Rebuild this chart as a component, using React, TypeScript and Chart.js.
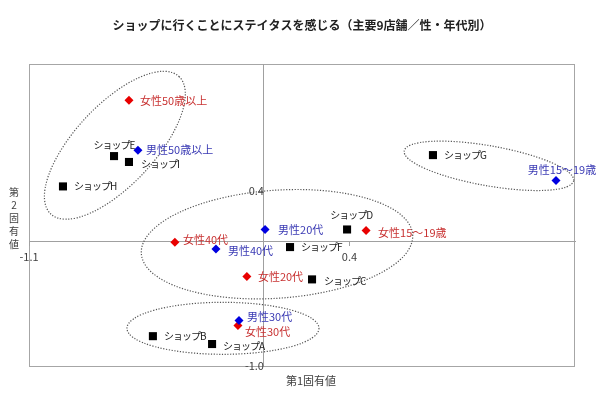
import React, { useEffect, useRef } from "react";
import { Chart, registerables } from "chart.js";

Chart.register(...registerables);

// ---------- data ----------
const TITLE = "ショップに行くことにステイタスを感じる（主要9店舗／性・年代別）";
const X_TITLE = "第1固有値";
const Y_TITLE = "第2固有値";

const shopNames = ["ショップA", "ショップB", "ショップC", "ショップD", "ショップE", "ショップF", "ショップG", "ショップH", "ショップI"];
const shopX = [-0.243, -0.52, 0.225, 0.389, -0.702, 0.122, 0.791, -0.941, -0.632];
const shopY = [-0.824, -0.761, -0.306, 0.094, 0.682, -0.047, 0.69, 0.439, 0.635];

const maleNames = ["男性15～19歳", "男性20代", "男性30代", "男性40代", "男性50歳以上"];
const maleX = [1.367, 0.005, -0.117, -0.225, -0.59];
const maleY = [0.486, 0.094, -0.635, -0.063, 0.729];

const femaleNames = ["女性15～19歳", "女性20代", "女性30代", "女性40代", "女性50歳以上"];
const femaleX = [0.478, -0.08, -0.122, -0.417, -0.632];
const femaleY = [0.086, -0.282, -0.675, -0.008, 1.129];

const xTicks = [-1.1, 0.4];
const yTicks = [-1.0, 0.4];
const xMin = -1.1;
const xMax = 1.456;
const yMin = -1.0;
const yMax = 1.42;

// group ellipses: centre in data units
const groupCentersX = [-0.698, 1.053, 0.061, -0.192];
const groupCentersY = [0.769, 0.604, -0.024, -0.698];

// ---------- styles ----------
const FONT = "'Noto Sans CJK JP', 'Noto Sans', sans-serif";
const ellipseShapes = [
  { rx: 94, ry: 40, rot: -47 },
  { rx: 86, ry: 20, rot: 10 },
  { rx: 136, ry: 54, rot: -4 },
  { rx: 96, ry: 26, rot: 0 },
];

const labelOffsets: Record<string, { dx?: number; dy?: number; align?: CanvasTextAlign }> = {
  "ショップE": { dx: 0, dy: -11, align: "center" },
  "ショップD": { dx: 4, dy: -14, align: "center" },
  "男性15～19歳": { dx: 6, dy: -11, align: "center" },
  "男性30代": { dx: 8, dy: -4 },
  "女性30代": { dx: 7, dy: 6 },
  "男性40代": { dx: 12, dy: 2 },
  "女性40代": { dx: 8, dy: -2 },
  "男性50歳以上": { dx: 8 },
  "ショップI": { dx: 12, dy: 2 },
  "ショップC": { dx: 12, dy: 2 },
  "ショップA": { dx: 11, dy: 2 },
  "女性15～19歳": { dx: 12, dy: 2 },
  "男性20代": { dx: 13 },
};

const labelStyles = [
  { names: shopNames, color: "#222222", size: 10, spacing: "-1px" },
  { names: maleNames, color: "#3a3ab4", size: 11, spacing: "0px" },
  { names: femaleNames, color: "#c83232", size: 11, spacing: "0px" },
];

const decorPlugin = {
  id: "decor",
  beforeDraw(chart: any) {
    const { ctx, chartArea } = chart;
    ctx.save();
    ctx.fillStyle = "#ffffff";
    ctx.fillRect(0, 0, chart.width, chart.height);
    // plot border
    ctx.strokeStyle = "#a6a6a6";
    ctx.lineWidth = 1;
    ctx.strokeRect(chartArea.left + 0.5, chartArea.top + 0.5, chartArea.right - chartArea.left - 1, chartArea.bottom - chartArea.top);
    ctx.restore();
  },
  beforeDatasetsDraw(chart: any) {
    const { ctx, scales } = chart;
    ctx.save();
    // ellipses
    ctx.strokeStyle = "#555555";
    ctx.lineWidth = 1.2;
    ctx.setLineDash([1.2, 1.6]);
    groupCentersX.forEach((cx, i) => {
      const px = scales.x.getPixelForValue(cx);
      const py = scales.y.getPixelForValue(groupCentersY[i]);
      const s = ellipseShapes[i];
      ctx.beginPath();
      ctx.ellipse(px, py, s.rx, s.ry, (s.rot * Math.PI) / 180, 0, Math.PI * 2);
      ctx.stroke();
    });
    ctx.restore();
  },
  afterDatasetsDraw(chart: any) {
    const { ctx, chartArea } = chart;
    ctx.save();
    labelStyles.forEach((st, di) => {
      const meta = chart.getDatasetMeta(di);
      ctx.font = `${st.size}px ${FONT}`;
      ctx.fillStyle = st.color;
      (ctx as any).letterSpacing = st.spacing;
      ctx.textBaseline = "middle";
      meta.data.forEach((pt: any, j: number) => {
        const name = st.names[j];
        const o = labelOffsets[name] || {};
        ctx.textAlign = o.align || "left";
        ctx.fillText(name, pt.x + (o.dx ?? 11), pt.y + (o.dy ?? 0));
      });
    });
    (ctx as any).letterSpacing = "0px";
    // axis titles
    ctx.fillStyle = "#404040";
    ctx.font = `11px ${FONT}`;
    ctx.textAlign = "center";
    ctx.textBaseline = "middle";
    ctx.fillText(X_TITLE, (chartArea.left + chartArea.right) / 2 + 9, chartArea.bottom + 15);
    ctx.font = `10px ${FONT}`;
    Array.from(Y_TITLE).forEach((ch, i) => {
      ctx.fillText(ch, 14, 192 + i * 13);
    });
    ctx.restore();
  },
};

export default function App() {
  const ref = useRef<HTMLCanvasElement | null>(null);
  useEffect(() => {
    document.body.style.margin = "0";
    if (!ref.current) return;
    const chart = new Chart(ref.current, {
      type: "scatter",
      data: {
        datasets: [
          {
            label: "店舗",
            data: shopX.map((x, i) => ({ x, y: shopY[i] })),
            pointStyle: "rect",
            pointRadius: 5.7,
            backgroundColor: "#000000",
            borderColor: "#000000",
            borderWidth: 0,
          },
          {
            label: "男性",
            data: maleX.map((x, i) => ({ x, y: maleY[i] })),
            pointStyle: "rectRot",
            pointRadius: 4.5,
            backgroundColor: "#0000e0",
            borderColor: "#0000e0",
            borderWidth: 0,
          },
          {
            label: "女性",
            data: femaleX.map((x, i) => ({ x, y: femaleY[i] })),
            pointStyle: "rectRot",
            pointRadius: 4.5,
            backgroundColor: "#e80000",
            borderColor: "#e80000",
            borderWidth: 0,
          },
        ],
      },
      options: {
        animation: false,
        responsive: false,
        maintainAspectRatio: false,
        events: [],
        layout: { padding: { left: 29, right: 25, bottom: 27, top: 0 } },
        plugins: {
          legend: { display: false },
          tooltip: { enabled: false },
          title: {
            display: true,
            text: TITLE,
            color: "#222222",
            font: { family: FONT, size: 12, weight: "bold" },
            padding: { top: 18, bottom: 31.6 },
          },
        },
        scales: {
          x: {
            type: "linear",
            position: { y: 0 } as any,
            min: xMin,
            max: xMax,
            afterBuildTicks: (s: any) => {
              s.ticks = xTicks.map((v) => ({ value: v }));
            },
            grid: { display: true, drawOnChartArea: false, drawTicks: true, tickLength: 4, color: "#a0a0a0" },
            border: { display: true, color: "#a0a0a0" },
            ticks: {
              color: "#404040",
              font: { family: FONT, size: 11 },
              padding: 5,
              maxRotation: 0,
              autoSkip: false,
              callback: (v: any) => Number(v).toFixed(1),
            },
          },
          y: {
            type: "linear",
            position: { x: 0 } as any,
            min: yMin,
            max: yMax,
            afterBuildTicks: (s: any) => {
              s.ticks = yTicks.map((v) => ({ value: v }));
            },
            grid: { display: true, drawOnChartArea: false, drawTicks: true, tickLength: 4, color: "#a0a0a0" },
            border: { display: true, color: "#a0a0a0" },
            ticks: {
              color: "#404040",
              font: { family: FONT, size: 11 },
              padding: 7,
              autoSkip: false,
              callback: (v: any) => Number(v).toFixed(1),
            },
          },
        },
      },
      plugins: [decorPlugin],
    });
    return () => chart.destroy();
  }, []);
  return (
    <div style={{ width: 600, height: 393, background: "#ffffff" }}>
      <canvas ref={ref} width={600} height={393} style={{ display: "block" }} />
    </div>
  );
}
